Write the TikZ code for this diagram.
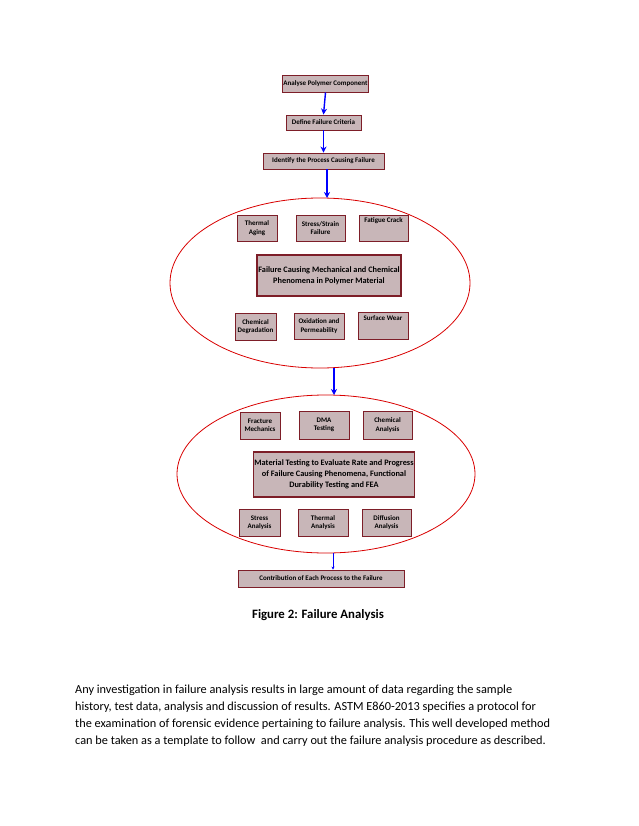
\documentclass[tikz,border=0pt]{standalone}
\usepackage{fontspec}
\setmainfont{Carlito}
\usetikzlibrary{arrows.meta}
\begin{document}
\begin{tikzpicture}[x=1pt,y=-1pt,
  box/.style={draw=boxline,fill=boxfill,line width=0.9pt,inner sep=1pt,align=center,font=\fontsize{7}{8.5}\selectfont\bfseries},
  cbox/.style={box,line width=1.6pt,font=\fontsize{8.3}{11}\selectfont\bfseries},
  barrow/.style={draw=blue,line width=1.4pt,-{Stealth[length=6pt,width=6pt]}},
  ell/.style={draw=red!85!black,line width=0.8pt}]
\definecolor{boxfill}{RGB}{200,182,184}
\definecolor{boxline}{RGB}{125,30,40}
\useasboundingbox (0,0) rectangle (638,826);
\fill[white] (0,0) rectangle (638,826);
\newcommand{\bx}[6]{\node[#1,minimum width=#4-#2,minimum height=#5-#3] (#6) at ({(#2+#4)/2},{(#3+#5)/2})}
\bx{box}{285}{75}{366}{92}{a} {Analyse Polymer Component};
\bx{box}{286}{115}{361}{130}{b} {Define Failure Criteria};
\bx{box}{263}{153}{384}{169}{c} {Identify the Process Causing Failure};
\draw[ell] (320,283) ellipse [x radius=150,y radius=85];
\coordinate (e1t) at (327,198);
\coordinate (e1b) at (334,368);
\bx{box}{237}{215}{277}{241}{t1} {Thermal\\Aging};
\bx{box}{296}{215}{345}{241}{t2} {Stress/Strain\\Failure};
\bx{box}{359}{215}{408}{241}{t3} {Fatigue Crack\\[7pt]};
\bx{cbox}{257}{255}{401}{296}{m1} {Failure Causing Mechanical and Chemical\\Phenomena in Polymer Material};
\bx{box}{235}{313}{276}{340}{u1} {Chemical\\Degradation};
\bx{box}{294}{313}{344}{339}{u2} {Oxidation and\\Permeability};
\bx{box}{358}{312}{408}{339}{u3} {Surface Wear\\[7pt]};
\draw[ell] (326,474) ellipse [x radius=149,y radius=79];
\coordinate (e2t) at (334,395);
\coordinate (e2b) at (333,553);
\bx{box}{240}{412}{280}{439}{f1} {Fracture\\Mechanics};
\bx{box}{299}{411}{349}{439}{f2} {DMA\\Testing};
\bx{box}{363}{411}{412}{439}{f3} {Chemical\\Analysis};
\bx{cbox}{262}{452}{406}{497}{m2} {Material Testing to Evaluate Rate and Progress\\of Failure Causing Phenomena, Functional\\Durability Testing and FEA};
\bx{box}{239}{509}{280}{536}{g1} {Stress\\Analysis};
\bx{box}{298}{509}{348}{536}{g2} {Thermal\\Analysis};
\bx{box}{362}{509}{411}{536}{g3} {Diffusion\\Analysis};
\bx{box}{238}{570}{404}{587}{h} {Contribution of Each Process to the Failure};
\draw[barrow] (a.south) -- (b.north);
\draw[barrow] (b.south) -- (c.north);
\draw[barrow] (c.south -| e1t) -- (e1t);
\draw[barrow] (e1b) -- (e2t);
\draw[draw=blue,line width=0.6pt,-{Stealth[length=3pt,width=3pt]}] (e2b) -- (h.north -| e2b);
\node[font=\fontsize{12.8}{14}\selectfont\bfseries] (cap) at (318,615) {Figure 2: Failure Analysis};
\begin{scope}[every node/.style={anchor=west,inner sep=0pt,font=\fontsize{12.3}{14}\selectfont}]
\node (p1) at (75,690) {Any investigation in failure analysis results in large amount of data regarding the sample};
\node (p2) at (75,707) {history, test data, analysis and discussion of results. ASTM E860-2013 specifies a protocol for};
\node (p3) at (75,724) {the examination of forensic evidence pertaining to failure analysis. This well developed method};
\node (p4) at (75,741) {can be taken as a template to follow\ \ and carry out the failure analysis procedure as described.};
\end{scope}
\end{tikzpicture}
\end{document}
